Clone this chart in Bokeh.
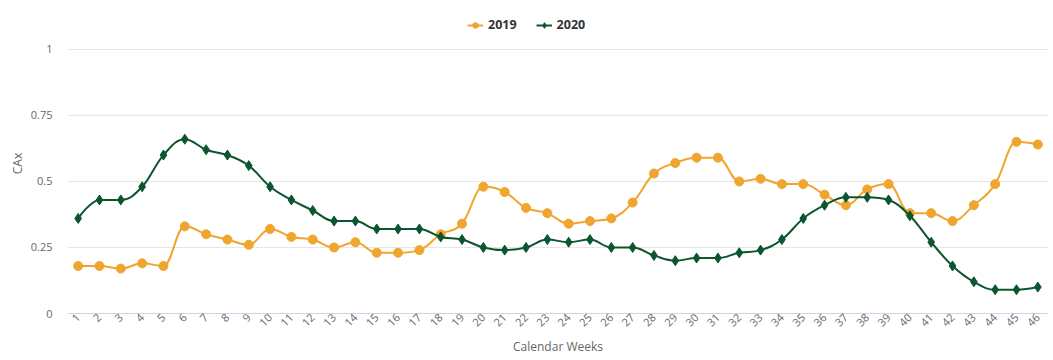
import numpy as np
from bokeh.plotting import figure
from bokeh.models import Legend, LegendItem, FixedTicker, Range1d, ColumnDataSource
from bokeh.embed import file_html
from bokeh.resources import INLINE

weeks = list(range(1, 47))
cax_2019 = [0.18, 0.18, 0.17, 0.19, 0.18, 0.33, 0.30, 0.28, 0.26, 0.32,
            0.29, 0.28, 0.25, 0.27, 0.23, 0.23, 0.24, 0.30, 0.34, 0.48,
            0.46, 0.40, 0.38, 0.34, 0.35, 0.36, 0.42, 0.53, 0.57, 0.59,
            0.59, 0.50, 0.51, 0.49, 0.49, 0.45, 0.41, 0.47, 0.49, 0.38,
            0.38, 0.35, 0.41, 0.49, 0.65, 0.64]
cax_2020 = [0.36, 0.43, 0.43, 0.48, 0.60, 0.66, 0.62, 0.60, 0.56, 0.48,
            0.43, 0.39, 0.35, 0.35, 0.32, 0.32, 0.32, 0.29, 0.28, 0.25,
            0.24, 0.25, 0.28, 0.27, 0.28, 0.25, 0.25, 0.22, 0.20, 0.21,
            0.21, 0.23, 0.24, 0.28, 0.36, 0.41, 0.44, 0.44, 0.43, 0.37,
            0.27, 0.18, 0.12, 0.09, 0.09, 0.10]
y_ticks = [0, 0.25, 0.5, 0.75, 1]
series_names = ["2019", "2020"]

C2019 = "#f0a52e"
C2020 = "#0b5630"
FONT = "Open Sans"


def spline_controls(xs, ys, smoothing=1.5):
    """Highcharts-style spline control points for each segment."""
    n = len(xs)
    lx = list(map(float, xs)); ly = list(map(float, ys))
    rx = list(map(float, xs)); ry = list(map(float, ys))
    denom = smoothing + 1
    for i in range(1, n - 1):
        px, py = xs[i], ys[i]
        ax, ay = xs[i - 1], ys[i - 1]
        bx, by = xs[i + 1], ys[i + 1]
        lcx = (smoothing * px + ax) / denom
        lcy = (smoothing * py + ay) / denom
        rcx = (smoothing * px + bx) / denom
        rcy = (smoothing * py + by) / denom
        if rcx != lcx:
            corr = ((rcy - lcy) * (rcx - px)) / (rcx - lcx) + py - rcy
            lcy += corr
            rcy += corr
        if lcy > ay and lcy > py:
            lcy = max(ay, py); rcy = 2 * py - lcy
        elif lcy < ay and lcy < py:
            lcy = min(ay, py); rcy = 2 * py - lcy
        if rcy > by and rcy > py:
            rcy = max(by, py); lcy = 2 * py - rcy
        elif rcy < by and rcy < py:
            rcy = min(by, py); lcy = 2 * py - rcy
        lx[i], ly[i], rx[i], ry[i] = lcx, lcy, rcx, rcy
    return dict(x0=xs[:-1], y0=ys[:-1], x1=xs[1:], y1=ys[1:],
                cx0=rx[:-1], cy0=ry[:-1], cx1=lx[1:], cy1=ly[1:])


# frame extends above y=1 to hold the legend (no gridline up there)
Y_TOP = 1.136
p = figure(width=1048, height=358, output_backend="svg",
           toolbar_location=None,
           x_range=Range1d(0.5, 46.5), y_range=Range1d(0, Y_TOP),
           min_border_left=67, min_border_right=0, min_border_top=13,
           min_border_bottom=0)
p.outline_line_color = None
p.background_fill_color = "white"
p.border_fill_color = "white"

items = []
for name, vals, col, marker, size in [
        (series_names[0], cax_2019, C2019, "circle", 9),
        (series_names[1], cax_2020, C2020, "diamond", 10)]:
    src = ColumnDataSource(spline_controls(weeks, vals))
    b = p.bezier(x0="x0", y0="y0", x1="x1", y1="y1", cx0="cx0", cy0="cy0",
                 cx1="cx1", cy1="cy1", source=src, line_color=col, line_width=2)
    s = p.scatter(weeks, vals, marker=marker, size=size, fill_color=col,
                  line_color=col, line_width=1)
    items.append(LegendItem(label=name, renderers=[b, s]))

legend = Legend(items=items, orientation="horizontal", location=(400, 280),
                border_line_color=None, background_fill_alpha=0,
                label_text_font=FONT, label_text_font_style="bold",
                label_text_font_size="12.5px", label_text_color="#333333",
                glyph_width=16, glyph_height=14, spacing=19, padding=4,
                margin=0, label_standoff=5)
p.add_layout(legend, "center")

p.xgrid.visible = False
p.ygrid.grid_line_color = "#e6e6e6"
p.ygrid.ticker = FixedTicker(ticks=y_ticks)

p.xaxis.ticker = FixedTicker(ticks=weeks)
p.xaxis.major_label_orientation = np.pi / 4
p.xaxis.axis_line_color = "#ccd6eb"
p.xaxis.major_tick_line_color = None
p.xaxis.minor_tick_line_color = None
p.xaxis.major_tick_out = 0
p.xaxis.major_tick_in = 0
p.xaxis.major_label_text_font = FONT
p.xaxis.major_label_text_font_size = "11px"
p.xaxis.major_label_text_color = "#666666"
p.xaxis.major_label_standoff = 2
p.xaxis.axis_label = "Calendar Weeks"
p.xaxis.axis_label_text_font = FONT
p.xaxis.axis_label_text_font_style = "normal"
p.xaxis.axis_label_text_font_size = "12px"
p.xaxis.axis_label_text_color = "#666666"
p.xaxis.axis_label_text_line_height = 1.0
p.xaxis.axis_label_standoff = 5

p.yaxis.ticker = FixedTicker(ticks=y_ticks)
p.yaxis.axis_line_color = None
p.yaxis.major_tick_line_color = None
p.yaxis.minor_tick_line_color = None
p.yaxis.major_tick_out = 0
p.yaxis.major_tick_in = 0
p.yaxis.major_label_text_font = FONT
p.yaxis.major_label_text_font_size = "11px"
p.yaxis.major_label_text_color = "#666666"
p.yaxis.major_label_standoff = 15
p.yaxis.axis_label = "CAx"
p.yaxis.axis_label_text_font = FONT
p.yaxis.axis_label_text_font_style = "normal"
p.yaxis.axis_label_text_font_size = "12px"
p.yaxis.axis_label_text_color = "#666666"
p.yaxis.axis_label_standoff = 2

open("out.html", "w").write(file_html(p, INLINE))
